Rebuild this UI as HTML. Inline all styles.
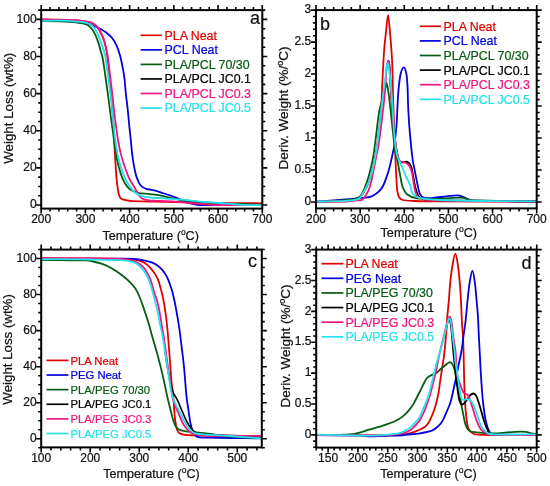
<!DOCTYPE html>
<html><head><meta charset="utf-8"><title>TGA / DTG curves</title>
<style>
html,body{margin:0;padding:0;background:#fff;}
body{width:550px;height:486px;overflow:hidden;}
svg{display:block;}
svg{color:#111;} svg text{font-family:'Liberation Sans', Arial, sans-serif;fill:currentColor;stroke:currentColor;stroke-width:0.22px;}
</style></head>
<body>
<svg width="550" height="486" viewBox="0 0 550 486" font-size="12" fill="#111">
<defs><clipPath id="ca"><rect x="41.2" y="10.1" width="221.1" height="198.5"/></clipPath><clipPath id="cb"><rect x="316" y="10.1" width="220.7" height="198.3"/></clipPath><clipPath id="cc"><rect x="41.2" y="249.6" width="220.6" height="197.8"/></clipPath><clipPath id="cd"><rect x="316.2" y="249.6" width="220.5" height="198"/></clipPath></defs>
<rect width="550" height="486" fill="#fff"/>
<g clip-path="url(#ca)">
<path d="M41.2,19.6C44.33,19.63 54.13,19.67 60,19.8C65.87,19.93 72.22,20.12 76.4,20.4C80.58,20.68 82.57,21.05 85.1,21.5C87.63,21.95 89.6,22.2 91.6,23.1C93.6,24 95.47,25.08 97.1,26.9C98.73,28.72 100.13,31.37 101.4,34C102.67,36.63 103.82,39.7 104.7,42.7C105.58,45.7 106.15,48.78 106.7,52C107.25,55.22 107.45,56.5 108,62C108.55,67.5 109.3,77.83 110,85C110.7,92.17 111.6,98.33 112.2,105C112.8,111.67 113.28,119.17 113.6,125C113.92,130.83 113.82,134.17 114.1,140C114.38,145.83 114.87,153.32 115.3,160C115.73,166.68 116.13,174.52 116.7,180.1C117.27,185.68 117.92,190.38 118.7,193.5C119.48,196.62 119.52,197.58 121.4,198.8C123.28,200.02 125.23,200.35 130,200.8C134.77,201.25 142.5,201.3 150,201.5C157.5,201.7 163.33,201.75 175,202C186.67,202.25 205.45,202.78 220,203C234.55,203.22 255.25,203.25 262.3,203.3" stroke="#e00000" stroke-width="1.8" fill="none" stroke-linejoin="round" stroke-linecap="round"/>
<path d="M41.2,20.4C44.33,20.45 53.23,20.28 60,20.7C66.77,21.12 76.8,22.27 81.8,22.9C86.8,23.53 87.45,23.77 90,24.5C92.55,25.23 94.47,26.02 97.1,27.3C99.73,28.58 103.27,30.38 105.8,32.2C108.33,34.02 110.48,35.93 112.3,38.2C114.12,40.47 115.43,43 116.7,45.8C117.97,48.6 118.98,51.8 119.9,55C120.82,58.2 121.45,61.17 122.2,65C122.95,68.83 123.77,73 124.4,78C125.03,83 125.43,89.67 126,95C126.57,100.33 127.27,105 127.8,110C128.33,115 128.7,120 129.2,125C129.7,130 130.32,135.27 130.8,140C131.28,144.73 131.55,148.95 132.1,153.4C132.65,157.85 133.33,162.7 134.1,166.7C134.87,170.7 135.6,174.27 136.7,177.4C137.8,180.53 139.13,183.6 140.7,185.5C142.27,187.4 144.55,188.13 146.1,188.8C147.65,189.47 148.3,189.15 150,189.5C151.7,189.85 154.63,190.45 156.3,190.9C157.97,191.35 157.75,191.45 160,192.2C162.25,192.95 166.72,194.33 169.8,195.4C172.88,196.47 175.58,197.43 178.5,198.6C181.42,199.77 184.57,201.43 187.3,202.4C190.03,203.37 192.18,203.97 194.9,204.4C197.62,204.83 192.37,204.87 203.6,205C214.83,205.13 252.52,205.17 262.3,205.2" stroke="#0000e0" stroke-width="1.8" fill="none" stroke-linejoin="round" stroke-linecap="round"/>
<path d="M41.2,21C44.33,21.05 54.13,21.07 60,21.3C65.87,21.53 72.22,21.95 76.4,22.4C80.58,22.85 82.75,23.18 85.1,24C87.45,24.82 88.87,25.67 90.5,27.3C92.13,28.93 93.53,31.08 94.9,33.8C96.27,36.52 97.7,40.57 98.7,43.6C99.7,46.63 100.18,49.27 100.9,52C101.62,54.73 101.82,52.83 103,60C104.18,67.17 106.58,84.67 108,95C109.42,105.33 110.5,114.5 111.5,122C112.5,129.5 113.25,134.77 114,140C114.75,145.23 115.22,148.95 116,153.4C116.78,157.85 117.58,162.47 118.7,166.7C119.82,170.93 121.25,175.45 122.7,178.8C124.15,182.15 125.73,184.8 127.4,186.8C129.07,188.8 130.92,189.8 132.7,190.8C134.48,191.8 135.22,192.25 138.1,192.8C140.98,193.35 146.35,193.67 150,194.1C153.65,194.53 156.52,194.73 160,195.4C163.48,196.07 167.27,197.28 170.9,198.1C174.53,198.92 178.17,199.75 181.8,200.3C185.43,200.85 186.33,200.87 192.7,201.4C199.07,201.93 208.4,202.98 220,203.5C231.6,204.02 255.25,204.33 262.3,204.5" stroke="#075c14" stroke-width="1.8" fill="none" stroke-linejoin="round" stroke-linecap="round"/>
<path d="M41.2,20.9C44.33,20.87 54.13,20.58 60,20.7C65.87,20.82 72.03,21.23 76.4,21.6C80.77,21.97 83.48,22.13 86.2,22.9C88.92,23.67 90.8,24.38 92.7,26.2C94.6,28.02 96.15,30.9 97.6,33.8C99.05,36.7 100.3,40.57 101.4,43.6C102.5,46.63 103.45,49.27 104.2,52C104.95,54.73 104.83,52.83 105.9,60C106.97,67.17 109.32,84.17 110.6,95C111.88,105.83 112.82,117.5 113.6,125C114.38,132.5 114.67,135.27 115.3,140C115.93,144.73 116.5,148.95 117.4,153.4C118.3,157.85 119.37,162.47 120.7,166.7C122.03,170.93 123.85,175.45 125.4,178.8C126.95,182.15 128.33,184.47 130,186.8C131.67,189.13 133.38,191.25 135.4,192.8C137.42,194.35 139.67,195.32 142.1,196.1C144.53,196.88 147.02,197.17 150,197.5C152.98,197.83 154.7,197.73 160,198.1C165.3,198.47 174.53,199.07 181.8,199.7C189.07,200.33 197.23,201.35 203.6,201.9C209.97,202.45 213.93,202.55 220,203C226.07,203.45 232.95,204.22 240,204.6C247.05,204.98 258.58,205.18 262.3,205.3" stroke="#000000" stroke-width="0.8" fill="none" stroke-linejoin="round" stroke-linecap="round"/>
<path d="M41.2,19.4C44.33,19.43 54.13,19.47 60,19.6C65.87,19.73 72.22,19.92 76.4,20.2C80.58,20.48 82.57,20.85 85.1,21.3C87.63,21.75 89.6,22 91.6,22.9C93.6,23.8 95.47,24.88 97.1,26.7C98.73,28.52 100.13,31.17 101.4,33.8C102.67,36.43 103.78,39.47 104.7,42.5C105.62,45.53 106.32,49.08 106.9,52C107.48,54.92 107.62,55.67 108.2,60C108.78,64.33 109.7,72.17 110.4,78C111.1,83.83 111.7,88.83 112.4,95C113.1,101.17 113.95,109.5 114.6,115C115.25,120.5 115.73,123.83 116.3,128C116.87,132.17 117.27,135.77 118,140C118.73,144.23 119.58,148.95 120.7,153.4C121.82,157.85 123.25,162.47 124.7,166.7C126.15,170.93 127.83,175.45 129.4,178.8C130.97,182.15 132.65,184.35 134.1,186.8C135.55,189.25 136.77,191.53 138.1,193.5C139.43,195.47 140.12,197.42 142.1,198.6C144.08,199.78 147.63,200.23 150,200.6C152.37,200.97 152.13,200.63 156.3,200.8C160.47,200.97 168.93,201.18 175,201.6C181.07,202.02 185.2,202.73 192.7,203.3C200.2,203.87 208.4,204.72 220,205C231.6,205.28 255.25,205 262.3,205" stroke="#f0157f" stroke-width="1.8" fill="none" stroke-linejoin="round" stroke-linecap="round"/>
<path d="M41.2,20.9C44.33,20.87 54.13,20.58 60,20.7C65.87,20.82 72.03,21.23 76.4,21.6C80.77,21.97 83.48,22.13 86.2,22.9C88.92,23.67 90.8,24.38 92.7,26.2C94.6,28.02 96.15,30.9 97.6,33.8C99.05,36.7 100.3,40.57 101.4,43.6C102.5,46.63 103.45,49.27 104.2,52C104.95,54.73 104.83,52.83 105.9,60C106.97,67.17 109.32,84.17 110.6,95C111.88,105.83 112.82,117.5 113.6,125C114.38,132.5 114.67,135.27 115.3,140C115.93,144.73 116.5,148.95 117.4,153.4C118.3,157.85 119.37,162.47 120.7,166.7C122.03,170.93 123.85,175.45 125.4,178.8C126.95,182.15 128.33,184.47 130,186.8C131.67,189.13 133.38,191.25 135.4,192.8C137.42,194.35 139.67,195.32 142.1,196.1C144.53,196.88 147.02,197.17 150,197.5C152.98,197.83 154.7,197.73 160,198.1C165.3,198.47 174.53,199.07 181.8,199.7C189.07,200.33 197.23,201.35 203.6,201.9C209.97,202.45 213.93,202.55 220,203C226.07,203.45 232.95,204.22 240,204.6C247.05,204.98 258.58,205.18 262.3,205.3" stroke="#25e2ee" stroke-width="1.8" fill="none" stroke-linejoin="round" stroke-linecap="round"/>
</g>
<g clip-path="url(#cb)">
<path d="M316,201.9C320,201.85 334.33,201.75 340,201.6C345.67,201.45 347,201.42 350,201C353,200.58 355.93,200.23 358,199.1C360.07,197.97 360.92,196.3 362.4,194.2C363.88,192.1 365.45,189.57 366.9,186.5C368.35,183.43 369.68,180.87 371.1,175.8C372.52,170.73 374.17,162.95 375.4,156.1C376.63,149.25 377.55,142.38 378.5,134.7C379.45,127.02 380.52,117.45 381.1,110C381.68,102.55 381.65,97.42 382,90C382.35,82.58 382.82,72.47 383.2,65.5C383.58,58.53 383.87,53.48 384.3,48.2C384.73,42.92 385.17,39.32 385.8,33.8C386.43,28.28 387.38,15.1 388.1,15.1C388.82,15.1 389.57,28.28 390.1,33.8C390.63,39.32 390.93,42.92 391.3,48.2C391.67,53.48 391.97,56.13 392.3,65.5C392.63,74.87 392.77,88.65 393.3,104.4C393.83,120.15 394.98,147.7 395.5,160C396.02,172.3 396.1,173.05 396.4,178.2C396.7,183.35 396.85,187.72 397.3,190.9C397.75,194.08 398.2,195.78 399.1,197.3C400,198.82 400.43,199.4 402.7,200C404.97,200.6 406.48,200.67 412.7,200.9C418.92,201.13 419.33,201.28 440,201.4C460.67,201.52 520.58,201.57 536.7,201.6" stroke="#e00000" stroke-width="1.8" fill="none" stroke-linejoin="round" stroke-linecap="round"/>
<path d="M316,201.6C320.45,201.27 336.07,200.12 342.7,199.6C349.33,199.08 351.72,198.87 355.8,198.5C359.88,198.13 364.33,197.85 367.2,197.4C370.07,196.95 370.92,196.92 373,195.8C375.08,194.68 377.95,192.5 379.7,190.7C381.45,188.9 382.37,187.27 383.5,185C384.63,182.73 385.58,179.68 386.5,177.1C387.42,174.52 388.25,172.15 389,169.5C389.75,166.85 390.37,163.95 391,161.2C391.63,158.45 392.23,155.63 392.8,153C393.37,150.37 393.93,148.45 394.4,145.4C394.87,142.35 395.22,138.48 395.6,134.7C395.98,130.92 396.33,128.48 396.7,122.7C397.07,116.92 397.43,106.13 397.8,100C398.17,93.87 398.42,90.32 398.9,85.9C399.38,81.48 399.88,76.6 400.7,73.5C401.52,70.4 402.87,67.3 403.8,67.3C404.73,67.3 405.68,70.4 406.3,73.5C406.92,76.6 407.17,79.82 407.5,85.9C407.83,91.98 407.88,101.87 408.3,110C408.72,118.13 409.27,126.37 410,134.7C410.73,143.03 411.95,154.27 412.7,160C413.45,165.73 413.73,165.17 414.5,169.1C415.27,173.03 416.38,179.42 417.3,183.6C418.22,187.78 418.82,191.82 420,194.2C421.18,196.58 422.22,197.28 424.4,197.9C426.58,198.52 429.47,198.15 433.1,197.9C436.73,197.65 442.2,196.83 446.2,196.4C450.2,195.97 454.2,195.2 457.1,195.3C460,195.4 461.6,196.28 463.6,197C465.6,197.72 466.92,198.98 469.1,199.6C471.28,200.22 465.43,200.37 476.7,200.7C487.97,201.03 526.7,201.45 536.7,201.6" stroke="#0000e0" stroke-width="1.8" fill="none" stroke-linejoin="round" stroke-linecap="round"/>
<path d="M316,201.8C320,201.57 333.58,200.85 340,200.4C346.42,199.95 351.17,199.77 354.5,199.1C357.83,198.43 358.33,198.2 360,196.4C361.67,194.6 363,191.83 364.5,188.3C366,184.77 367.55,180.42 369,175.2C370.45,169.98 372,163.75 373.2,157C374.4,150.25 375.15,142.53 376.2,134.7C377.25,126.87 378.08,117.12 379.5,110C380.92,102.88 383.53,96.53 384.7,92C385.87,87.47 385.88,82.8 386.5,82.8C387.12,82.8 387.78,87.98 388.4,92C389.02,96.02 389.48,100.6 390.2,106.9C390.92,113.2 391.88,122.42 392.7,129.8C393.52,137.18 394.33,146.17 395.1,151.2C395.87,156.23 396.48,156.12 397.3,160C398.12,163.88 399.1,169.95 400,174.5C400.9,179.05 401.48,183.97 402.7,187.3C403.92,190.63 405.02,192.68 407.3,194.5C409.58,196.32 412.1,197.42 416.4,198.2C420.7,198.98 427.05,199.25 433.1,199.2C439.15,199.15 447.62,198.12 452.7,197.9C457.78,197.68 460.68,197.53 463.6,197.9C466.52,198.27 466.55,199.63 470.2,200.1C473.85,200.57 474.42,200.47 485.5,200.7C496.58,200.93 528.17,201.37 536.7,201.5" stroke="#075c14" stroke-width="1.8" fill="none" stroke-linejoin="round" stroke-linecap="round"/>
<path d="M386.7,67.3C386.98,66.18 387.92,60.6 388.4,60.6C388.88,60.6 389.23,63.08 389.6,67.3C389.97,71.52 390.22,79.72 390.6,85.9C390.98,92.08 391.42,97.88 391.9,104.4C392.38,110.92 392.73,117.4 393.5,125C394.27,132.6 395.42,143.9 396.5,150C397.58,156.1 398.2,159.63 400,161.6C401.8,163.57 405.5,161.15 407.3,161.8C409.1,162.45 409.88,163.47 410.8,165.5C411.72,167.53 412.1,170.58 412.8,174C413.5,177.42 414.17,182.58 415,186C415.83,189.42 416.63,192.42 417.8,194.5C418.97,196.58 418.3,197.53 422,198.5C425.7,199.47 420.88,199.8 440,200.3C459.12,200.8 520.58,201.3 536.7,201.5" stroke="#000000" stroke-width="1.8" fill="none" stroke-linejoin="round" stroke-linecap="round"/>
<path d="M316,201.8C321.82,201.65 343.98,201.15 350.9,200.9C357.82,200.65 355.53,200.57 357.5,200.3C359.47,200.03 360.9,200.9 362.7,199.3C364.5,197.7 366.83,193.83 368.3,190.7C369.77,187.57 370.55,184.28 371.5,180.5C372.45,176.72 373.18,172.08 374,168C374.82,163.92 375.65,159.77 376.4,156C377.15,152.23 377.88,149.07 378.5,145.4C379.12,141.73 379.6,137.78 380.1,134C380.6,130.22 381.02,126.7 381.5,122.7C381.98,118.7 382.55,113.78 383,110C383.45,106.22 383.82,104.02 384.2,100C384.58,95.98 384.88,91.35 385.3,85.9C385.72,80.45 386.18,71.45 386.7,67.3C387.22,63.15 387.92,61 388.4,61C388.88,61 389.23,63.15 389.6,67.3C389.97,71.45 390.22,79.72 390.6,85.9C390.98,92.08 391.42,97.88 391.9,104.4C392.38,110.92 392.73,117.4 393.5,125C394.27,132.6 395.5,144 396.5,150C397.5,156 398.62,159.03 399.5,161C400.38,162.97 400.8,161.52 401.8,161.8C402.8,162.08 404.3,162.08 405.5,162.7C406.7,163.32 407.95,163.95 409,165.5C410.05,167.05 411.05,169.25 411.8,172C412.55,174.75 412.93,178.83 413.5,182C414.07,185.17 414.53,188.62 415.2,191C415.87,193.38 416.37,195.02 417.5,196.3C418.63,197.58 418.25,197.98 422,198.7C425.75,199.42 420.88,200.12 440,200.6C459.12,201.08 520.58,201.43 536.7,201.6" stroke="#f0157f" stroke-width="1.8" fill="none" stroke-linejoin="round" stroke-linecap="round"/>
<path d="M316,201.6C320.83,201.47 338,201.22 345,200.8C352,200.38 355.12,200.2 358,199.1C360.88,198 360.85,196.3 362.3,194.2C363.75,192.1 365.25,189.57 366.7,186.5C368.15,183.43 369.55,180.87 371,175.8C372.45,170.73 374.15,162.95 375.4,156.1C376.65,149.25 377.53,142.38 378.5,134.7C379.47,127.02 380.37,117.12 381.2,110C382.03,102.88 382.72,98.08 383.5,92C384.28,85.92 385.18,78.33 385.9,73.5C386.62,68.67 387.18,63 387.8,63C388.42,63 388.98,68.67 389.6,73.5C390.22,78.33 390.98,85.92 391.5,92C392.02,98.08 392.23,102.88 392.7,110C393.17,117.12 393.62,127.3 394.3,134.7C394.98,142.1 395.7,149.47 396.8,154.4C397.9,159.33 399.4,160.73 400.9,164.3C402.4,167.87 404.28,172.35 405.8,175.8C407.32,179.25 408.85,182.03 410,185C411.15,187.97 411.03,191.4 412.7,193.6C414.37,195.8 415.45,197.13 420,198.2C424.55,199.27 430,199.53 440,200C450,200.47 463.88,200.78 480,201C496.12,201.22 527.25,201.25 536.7,201.3" stroke="#25e2ee" stroke-width="1.8" fill="none" stroke-linejoin="round" stroke-linecap="round"/>
</g>
<g clip-path="url(#cc)">
<path d="M41.2,258.5C49.33,258.5 76.03,258.43 90,258.5C103.97,258.57 117.33,258.68 125,258.9C132.67,259.12 133.13,259.35 136,259.8C138.87,260.25 140.32,260.75 142.2,261.6C144.08,262.45 145.73,263.62 147.3,264.9C148.87,266.18 150.27,267.72 151.6,269.3C152.93,270.88 154.2,272.58 155.3,274.4C156.4,276.22 157.35,278.02 158.2,280.2C159.05,282.38 159.67,284.87 160.4,287.5C161.13,290.13 161.92,292.92 162.6,296C163.28,299.08 163.9,302.33 164.5,306C165.1,309.67 165.7,314 166.2,318C166.7,322 167.02,324.7 167.5,330C167.98,335.3 168.63,343.82 169.1,349.8C169.57,355.78 169.88,360.37 170.3,365.9C170.72,371.43 171.12,378.15 171.6,383C172.08,387.85 172.77,390.55 173.2,395C173.63,399.45 173.83,405.2 174.2,409.7C174.57,414.2 174.88,418.58 175.4,422C175.92,425.42 176.57,428.27 177.3,430.2C178.03,432.13 178.57,432.83 179.8,433.6C181.03,434.37 182.45,434.52 184.7,434.8C186.95,435.08 189.08,435.13 193.3,435.3C197.52,435.47 202.22,435.68 210,435.8C217.78,435.92 231.37,435.95 240,436C248.63,436.05 258.17,436.08 261.8,436.1" stroke="#e00000" stroke-width="1.8" fill="none" stroke-linejoin="round" stroke-linecap="round"/>
<path d="M41.2,259.2C49.33,259.15 76.03,258.98 90,258.9C103.97,258.82 117,258.63 125,258.7C133,258.77 134.5,258.95 138,259.3C141.5,259.65 143.73,260.28 146,260.8C148.27,261.32 149.82,261.72 151.6,262.4C153.38,263.08 155,263.75 156.7,264.9C158.4,266.05 160.33,267.72 161.8,269.3C163.27,270.88 164.4,272.58 165.5,274.4C166.6,276.22 167.57,278.27 168.4,280.2C169.23,282.13 169.83,284.03 170.5,286C171.17,287.97 171.73,289.5 172.4,292C173.07,294.5 173.8,297.67 174.5,301C175.2,304.33 175.93,308.3 176.6,312C177.27,315.7 177.9,319.37 178.5,323.2C179.1,327.03 179.62,330.57 180.2,335C180.78,339.43 181.38,344.65 182,349.8C182.62,354.95 183.32,360.03 183.9,365.9C184.48,371.77 185.05,379.77 185.5,385C185.95,390.23 186.12,393.18 186.6,397.3C187.08,401.42 187.8,405.58 188.4,409.7C189,413.82 189.58,418.72 190.2,422C190.82,425.28 191.27,427.17 192.1,429.4C192.93,431.63 193.97,434.08 195.2,435.4C196.43,436.72 197.03,436.92 199.5,437.3C201.97,437.68 204.92,437.58 210,437.7C215.08,437.82 221.37,437.9 230,438C238.63,438.1 256.5,438.25 261.8,438.3" stroke="#0000e0" stroke-width="1.8" fill="none" stroke-linejoin="round" stroke-linecap="round"/>
<path d="M41.2,260C44.33,260.03 52.62,260.13 60,260.2C67.38,260.27 79.98,260.18 85.5,260.4C91.02,260.62 90.57,261 93.1,261.5C95.63,262 98.15,262.57 100.7,263.4C103.25,264.23 105.85,265.23 108.4,266.5C110.95,267.77 113.47,269.33 116,271C118.53,272.67 121.37,274.73 123.6,276.5C125.83,278.27 127.52,279.72 129.4,281.6C131.28,283.48 133.27,285.4 134.9,287.8C136.53,290.2 137.87,292.98 139.2,296C140.53,299.02 141.67,302.4 142.9,305.9C144.13,309.4 145.47,313.5 146.6,317C147.73,320.5 148.83,323.9 149.7,326.9C150.57,329.9 150.73,331.18 151.8,335C152.87,338.82 154.67,344.65 156.1,349.8C157.53,354.95 159.03,360.45 160.4,365.9C161.77,371.35 163.13,377.27 164.3,382.5C165.47,387.73 166.37,392.77 167.4,397.3C168.43,401.83 169.57,405.98 170.5,409.7C171.43,413.42 172.18,416.93 173,419.6C173.82,422.27 174.48,424.1 175.4,425.7C176.32,427.3 176.95,428.28 178.5,429.2C180.05,430.12 181.62,430.65 184.7,431.2C187.78,431.75 192.78,432.07 197,432.5C201.22,432.93 204.5,433.12 210,433.8C215.5,434.48 221.37,435.87 230,436.6C238.63,437.33 256.5,437.93 261.8,438.2" stroke="#075c14" stroke-width="1.8" fill="none" stroke-linejoin="round" stroke-linecap="round"/>
<path d="M164.8,349.8C165.2,352.48 166.37,360.87 167.2,365.9C168.03,370.93 169.12,376.65 169.8,380C170.48,383.35 170.77,383.93 171.3,386C171.83,388.07 172,390.1 173,392.4C174,394.7 175.97,397.12 177.3,399.8C178.63,402.48 179.77,405.62 181,408.5C182.23,411.38 183.47,414.43 184.7,417.1C185.93,419.77 187.17,422.45 188.4,424.5C189.63,426.55 190.87,428.07 192.1,429.4C193.33,430.73 193.95,431.67 195.8,432.5C197.65,433.33 197.5,433.88 203.2,434.4C208.9,434.92 220.23,435.28 230,435.6C239.77,435.92 256.5,436.18 261.8,436.3" stroke="#000000" stroke-width="1.6" fill="none" stroke-linejoin="round" stroke-linecap="round"/>
<path d="M41.2,257.9C49.33,257.97 76.87,258.15 90,258.3C103.13,258.45 113,258.47 120,258.8C127,259.13 128.67,259.4 132,260.3C135.33,261.2 137.93,262.83 140,264.2C142.07,265.57 143.07,266.8 144.4,268.5C145.73,270.2 146.92,272.33 148,274.4C149.08,276.47 149.93,278.12 150.9,280.9C151.87,283.68 152.77,287.75 153.8,291.1C154.83,294.45 156.13,297.5 157.1,301C158.07,304.5 158.88,308.4 159.6,312.1C160.32,315.8 160.75,319.38 161.4,323.2C162.05,327.02 162.8,330.57 163.5,335C164.2,339.43 164.88,344.65 165.6,349.8C166.32,354.95 167.07,360.53 167.8,365.9C168.53,371.27 169.33,377.32 170,382C170.67,386.68 171.2,390.83 171.8,394C172.4,397.17 172.48,397.77 173.6,401C174.72,404.23 176.85,409.48 178.5,413.4C180.15,417.32 181.85,421.62 183.5,424.5C185.15,427.38 186.77,429.15 188.4,430.7C190.03,432.25 191.25,433.08 193.3,433.8C195.35,434.52 194.58,434.7 200.7,435C206.82,435.3 219.82,435.43 230,435.6C240.18,435.77 256.5,435.93 261.8,436" stroke="#f0157f" stroke-width="1.8" fill="none" stroke-linejoin="round" stroke-linecap="round"/>
<path d="M41.2,259.3C44.33,259.27 51.87,259.07 60,259.1C68.13,259.13 80,259.32 90,259.5C100,259.68 113.33,259.88 120,260.2C126.67,260.52 127.33,260.87 130,261.4C132.67,261.93 134.33,262.57 136,263.4C137.67,264.23 138.73,265.18 140,266.4C141.27,267.62 142.38,269.02 143.6,270.7C144.82,272.38 146.2,274.32 147.3,276.5C148.4,278.68 149.35,281.37 150.2,283.8C151.05,286.23 151.6,288.23 152.4,291.1C153.2,293.97 154.12,297.5 155,301C155.88,304.5 156.9,308.4 157.7,312.1C158.5,315.8 159.03,319.38 159.8,323.2C160.57,327.02 161.47,330.57 162.3,335C163.13,339.43 163.98,344.65 164.8,349.8C165.62,354.95 166.42,360.7 167.2,365.9C167.98,371.1 168.75,376.38 169.5,381C170.25,385.62 170.82,390.05 171.7,393.6C172.58,397.15 173.45,399.2 174.8,402.3C176.15,405.4 178.15,408.92 179.8,412.2C181.45,415.48 183.07,419.13 184.7,422C186.33,424.87 187.95,427.55 189.6,429.4C191.25,431.25 192.33,432.27 194.6,433.1C196.87,433.93 200.63,434.1 203.2,434.4C205.77,434.7 205.53,434.63 210,434.9C214.47,435.17 221.37,435.42 230,436C238.63,436.58 256.5,438 261.8,438.4" stroke="#25e2ee" stroke-width="1.8" fill="none" stroke-linejoin="round" stroke-linecap="round"/>
</g>
<g clip-path="url(#cd)">
<path d="M316.2,435.1C326.83,435.13 366.53,435.28 380,435.3C393.47,435.32 392.03,435.52 397,435.2C401.97,434.88 406.7,434.03 409.8,433.4C412.9,432.77 413.9,432.05 415.6,431.4C417.3,430.75 418.47,430.23 420,429.5C421.53,428.77 423.47,428 424.8,427C426.13,426 427.13,424.67 428,423.5C428.87,422.33 429.27,421.5 430,420C430.73,418.5 431.62,416.42 432.4,414.5C433.18,412.58 433.75,411.73 434.7,408.5C435.65,405.27 437.2,399.57 438.1,395.1C439,390.63 439.43,386.15 440.1,381.7C440.77,377.25 441.43,372.85 442.1,368.4C442.77,363.95 443.45,360.4 444.1,355C444.75,349.6 445.43,342.77 446,336C446.57,329.23 447.02,320.4 447.5,314.4C447.98,308.4 448.45,305.25 448.9,300C449.35,294.75 449.63,288.48 450.2,282.9C450.77,277.32 451.45,271.38 452.3,266.5C453.15,261.62 454.33,253.6 455.3,253.6C456.27,253.6 457.35,261.62 458.1,266.5C458.85,271.38 459.33,277.42 459.8,282.9C460.27,288.38 460.55,292.95 460.9,299.4C461.25,305.85 461.5,314.3 461.9,321.6C462.3,328.9 462.88,332.3 463.3,343.2C463.72,354.1 464,375.68 464.4,387C464.8,398.32 465.08,404.3 465.7,411.1C466.32,417.9 466.92,424.1 468.1,427.8C469.28,431.5 470.48,432.13 472.8,433.3C475.12,434.47 471.35,434.5 482,434.8C492.65,435.1 527.58,435.05 536.7,435.1" stroke="#e00000" stroke-width="1.8" fill="none" stroke-linejoin="round" stroke-linecap="round"/>
<path d="M316.2,435.1C323.5,435.18 351.18,435.4 360,435.6C368.82,435.8 364.93,436.27 369.1,436.3C373.27,436.33 380.15,435.93 385,435.8C389.85,435.67 393.58,435.78 398.2,435.5C402.82,435.22 409.07,434.45 412.7,434.1C416.33,433.75 417.62,433.75 420,433.4C422.38,433.05 424.97,432.48 427,432C429.03,431.52 430.53,431.28 432.2,430.5C433.87,429.72 435.45,428.63 437,427.3C438.55,425.97 440.17,424.43 441.5,422.5C442.83,420.57 443.95,417.95 445,415.7C446.05,413.45 446.87,411.3 447.8,409C448.73,406.7 449.67,405.07 450.6,401.9C451.53,398.73 452.48,394.02 453.4,390C454.32,385.98 455.2,382.13 456.1,377.8C457,373.47 457.87,368.63 458.8,364C459.73,359.37 460.92,354.67 461.7,350C462.48,345.33 462.87,340.73 463.5,336C464.13,331.27 464.82,327.6 465.5,321.6C466.18,315.6 466.92,306.45 467.6,300C468.28,293.55 468.8,287.8 469.6,282.9C470.4,278 471.52,270.6 472.4,270.6C473.28,270.6 474.22,278.1 474.9,282.9C475.58,287.7 476,293.92 476.5,299.4C477,304.88 477.53,310.2 477.9,315.8C478.27,321.4 478.42,327.3 478.7,333C478.98,338.7 479.2,342.53 479.6,350C480,357.47 480.53,369.15 481.1,377.8C481.67,386.45 482.23,394.8 483,401.9C483.77,409 484.63,415.47 485.7,420.4C486.77,425.33 487.85,429.18 489.4,431.5C490.95,433.82 487.12,433.72 495,434.3C502.88,434.88 529.75,434.88 536.7,435" stroke="#0000e0" stroke-width="1.8" fill="none" stroke-linejoin="round" stroke-linecap="round"/>
<path d="M316.2,434.9C320.17,434.88 333.62,434.98 340,434.8C346.38,434.62 349.65,434.65 354.5,433.8C359.35,432.95 364.25,431.1 369.1,429.7C373.95,428.3 379.23,426.85 383.6,425.4C387.97,423.95 392.15,422.47 395.3,421C398.45,419.53 400.32,418.3 402.5,416.6C404.68,414.9 406.73,412.65 408.4,410.8C410.07,408.95 411.35,407.22 412.5,405.5C413.65,403.78 413.93,403.12 415.3,400.5C416.67,397.88 419.13,392.93 420.7,389.8C422.27,386.67 423.58,383.72 424.7,381.7C425.82,379.68 426.28,378.8 427.4,377.7C428.52,376.6 430.07,375.77 431.4,375.1C432.73,374.43 433.85,374.72 435.4,373.7C436.95,372.68 439.13,370.33 440.7,369C442.27,367.67 443.43,366.78 444.8,365.7C446.17,364.62 447.78,362.95 448.9,362.5C450.02,362.05 450.58,361.92 451.5,363C452.42,364.08 453.63,366.53 454.4,369C455.17,371.47 455.2,373.25 456.1,377.8C457,382.35 458.72,390.75 459.8,396.3C460.88,401.85 461.67,406.47 462.6,411.1C463.53,415.73 464.32,420.85 465.4,424.1C466.48,427.35 467.25,429.22 469.1,430.6C470.95,431.98 472.32,431.92 476.5,432.4C480.68,432.88 489.07,433.5 494.2,433.5C499.33,433.5 502.95,432.72 507.3,432.4C511.65,432.08 517.22,431.68 520.3,431.6C523.38,431.52 523.97,431.62 525.8,431.9C527.63,432.18 529.48,432.93 531.3,433.3C533.12,433.67 535.8,433.97 536.7,434.1" stroke="#075c14" stroke-width="1.8" fill="none" stroke-linejoin="round" stroke-linecap="round"/>
<path d="M446,328.8C446.43,327.2 447.88,320.33 448.6,319.2C449.32,318.07 449.85,320.4 450.3,322C450.75,323.6 450.92,325.27 451.3,328.8C451.68,332.33 452.17,338.4 452.6,343.2C453.03,348 453.43,353.13 453.9,357.6C454.37,362.07 455.03,366.63 455.4,370C455.77,373.37 455.52,373.12 456.1,377.8C456.68,382.48 457.97,393.63 458.9,398.1C459.83,402.57 460.62,403.97 461.7,404.6C462.78,405.23 464.02,403.43 465.4,401.9C466.78,400.37 468.62,396.8 470,395.4C471.38,394 472.62,393.35 473.7,393.5C474.78,393.65 475.42,393.98 476.5,396.3C477.58,398.62 478.97,403.38 480.2,407.4C481.43,411.42 482.67,416.7 483.9,420.4C485.13,424.1 486.07,427.28 487.6,429.6C489.13,431.92 484.92,433.4 493.1,434.3C501.28,435.2 529.43,434.88 536.7,435" stroke="#000000" stroke-width="1.8" fill="none" stroke-linejoin="round" stroke-linecap="round"/>
<path d="M316.2,435.2C326.58,435.22 364.87,435.47 378.5,435.3C392.13,435.13 393.02,434.88 398,434.2C402.98,433.52 405.7,432.43 408.4,431.2C411.1,429.97 412.68,428.17 414.2,426.8C415.72,425.43 416.45,424.3 417.5,423C418.55,421.7 419.18,421.42 420.5,419C421.82,416.58 423.82,412.48 425.4,408.5C426.98,404.52 428.67,399.57 430,395.1C431.33,390.63 432.38,385.72 433.4,381.7C434.42,377.68 435.32,374.57 436.1,371C436.88,367.43 437.4,363.73 438.1,360.3C438.8,356.87 439.33,354.45 440.3,350.4C441.27,346.35 442.83,340.32 443.9,336C444.97,331.68 445.75,327.73 446.7,324.5C447.65,321.27 448.75,316.85 449.6,316.6C450.45,316.35 451.2,319.77 451.8,323C452.4,326.23 452.6,331.43 453.2,336C453.8,340.57 454.92,346.4 455.4,350.4C455.88,354.4 455.8,355.9 456.1,360C456.4,364.1 456.58,371.12 457.2,375C457.82,378.88 458.75,380.37 459.8,383.3C460.85,386.23 462.12,390.58 463.5,392.6C464.88,394.62 466.7,393.23 468.1,395.4C469.5,397.57 470.5,401.43 471.9,405.6C473.3,409.77 474.97,416.4 476.5,420.4C478.03,424.4 479.25,427.45 481.1,429.6C482.95,431.75 485.28,432.43 487.6,433.3C489.92,434.17 486.82,434.48 495,434.8C503.18,435.12 529.75,435.13 536.7,435.2" stroke="#f0157f" stroke-width="1.8" fill="none" stroke-linejoin="round" stroke-linecap="round"/>
<path d="M316.2,434.6C323.5,434.77 349.62,435.48 360,435.6C370.38,435.72 372.13,435.67 378.5,435.3C384.87,434.93 393.7,434.2 398.2,433.4C402.7,432.6 403.32,431.63 405.5,430.5C407.68,429.37 409.67,427.93 411.3,426.6C412.93,425.27 414.07,423.85 415.3,422.5C416.53,421.15 417.35,420.83 418.7,418.5C420.05,416.17 421.73,412.4 423.4,408.5C425.07,404.6 427.25,399.57 428.7,395.1C430.15,390.63 431.1,385.72 432.1,381.7C433.1,377.68 433.85,374.45 434.7,371C435.55,367.55 436.4,363.92 437.2,361C438,358.08 438.52,356.95 439.5,353.5C440.48,350.05 442.02,344.42 443.1,340.3C444.18,336.18 445.03,332.4 446,328.8C446.97,325.2 448.05,319.67 448.9,318.7C449.75,317.73 450.5,320.12 451.1,323C451.7,325.88 451.95,331.43 452.5,336C453.05,340.57 453.95,346.4 454.4,350.4C454.85,354.4 454.6,355.43 455.2,360C455.8,364.57 457.08,371.75 458,377.8C458.92,383.85 459.78,392.6 460.7,396.3C461.62,400 462.42,399.53 463.5,400C464.58,400.47 465.8,398.78 467.2,399.1C468.6,399.42 470.35,399.58 471.9,401.9C473.45,404.22 474.97,409 476.5,413C478.03,417 479.4,422.67 481.1,425.9C482.8,429.13 484.38,430.98 486.7,432.4C489.02,433.82 486.67,434.07 495,434.4C503.33,434.73 529.75,434.4 536.7,434.4" stroke="#25e2ee" stroke-width="1.8" fill="none" stroke-linejoin="round" stroke-linecap="round"/>
</g>
<rect x="41.2" y="10.1" width="221.1" height="198.5" fill="none" stroke="#000" stroke-width="2"/>
<path d="M41.2,208.6v5M41.2,10.1v-5M50.04,208.6v3M50.04,10.1v-3M58.89,208.6v3M58.89,10.1v-3M67.73,208.6v3M67.73,10.1v-3M76.58,208.6v3M76.58,10.1v-3M85.42,208.6v5M85.42,10.1v-5M94.26,208.6v3M94.26,10.1v-3M103.11,208.6v3M103.11,10.1v-3M111.95,208.6v3M111.95,10.1v-3M120.8,208.6v3M120.8,10.1v-3M129.64,208.6v5M129.64,10.1v-5M138.48,208.6v3M138.48,10.1v-3M147.33,208.6v3M147.33,10.1v-3M156.17,208.6v3M156.17,10.1v-3M165.02,208.6v3M165.02,10.1v-3M173.86,208.6v5M173.86,10.1v-5M182.7,208.6v3M182.7,10.1v-3M191.55,208.6v3M191.55,10.1v-3M200.39,208.6v3M200.39,10.1v-3M209.24,208.6v3M209.24,10.1v-3M218.08,208.6v5M218.08,10.1v-5M226.92,208.6v3M226.92,10.1v-3M235.77,208.6v3M235.77,10.1v-3M244.61,208.6v3M244.61,10.1v-3M253.46,208.6v3M253.46,10.1v-3M262.3,208.6v5M262.3,10.1v-5M41.2,205h-5M262.3,205h5M41.2,195.72h-3M262.3,195.72h3M41.2,186.44h-3M262.3,186.44h3M41.2,177.16h-3M262.3,177.16h3M41.2,167.88h-5M262.3,167.88h5M41.2,158.6h-3M262.3,158.6h3M41.2,149.32h-3M262.3,149.32h3M41.2,140.04h-3M262.3,140.04h3M41.2,130.76h-5M262.3,130.76h5M41.2,121.48h-3M262.3,121.48h3M41.2,112.2h-3M262.3,112.2h3M41.2,102.92h-3M262.3,102.92h3M41.2,93.64h-5M262.3,93.64h5M41.2,84.36h-3M262.3,84.36h3M41.2,75.08h-3M262.3,75.08h3M41.2,65.8h-3M262.3,65.8h3M41.2,56.52h-5M262.3,56.52h5M41.2,47.24h-3M262.3,47.24h3M41.2,37.96h-3M262.3,37.96h3M41.2,28.68h-3M262.3,28.68h3M41.2,19.4h-5M262.3,19.4h5M41.2,10.12h-3M262.3,10.12h3" stroke="#000" stroke-width="1.6" fill="none"/>
<text x="41.2" y="223" text-anchor="middle">200</text>
<text x="85.42" y="223" text-anchor="middle">300</text>
<text x="129.64" y="223" text-anchor="middle">400</text>
<text x="173.86" y="223" text-anchor="middle">500</text>
<text x="218.08" y="223" text-anchor="middle">600</text>
<text x="262.3" y="223" text-anchor="middle">700</text>
<text x="36.6" y="208.2" text-anchor="end">0</text>
<text x="36.6" y="171.08" text-anchor="end">20</text>
<text x="36.6" y="133.96" text-anchor="end">40</text>
<text x="36.6" y="96.84" text-anchor="end">60</text>
<text x="36.6" y="59.72" text-anchor="end">80</text>
<text x="36.6" y="22.6" text-anchor="end">100</text>
<rect x="316" y="10.1" width="220.7" height="198.3" fill="none" stroke="#000" stroke-width="2"/>
<path d="M316,208.4v5M316,10.1v-5M324.83,208.4v3M324.83,10.1v-3M333.66,208.4v3M333.66,10.1v-3M342.48,208.4v3M342.48,10.1v-3M351.31,208.4v3M351.31,10.1v-3M360.14,208.4v5M360.14,10.1v-5M368.97,208.4v3M368.97,10.1v-3M377.8,208.4v3M377.8,10.1v-3M386.62,208.4v3M386.62,10.1v-3M395.45,208.4v3M395.45,10.1v-3M404.28,208.4v5M404.28,10.1v-5M413.11,208.4v3M413.11,10.1v-3M421.94,208.4v3M421.94,10.1v-3M430.76,208.4v3M430.76,10.1v-3M439.59,208.4v3M439.59,10.1v-3M448.42,208.4v5M448.42,10.1v-5M457.25,208.4v3M457.25,10.1v-3M466.08,208.4v3M466.08,10.1v-3M474.9,208.4v3M474.9,10.1v-3M483.73,208.4v3M483.73,10.1v-3M492.56,208.4v5M492.56,10.1v-5M501.39,208.4v3M501.39,10.1v-3M510.22,208.4v3M510.22,10.1v-3M519.04,208.4v3M519.04,10.1v-3M527.87,208.4v3M527.87,10.1v-3M536.7,208.4v5M536.7,10.1v-5M316,202h-5M536.7,202h5M316,195.6h-3M536.7,195.6h3M316,189.21h-3M536.7,189.21h3M316,182.81h-3M536.7,182.81h3M316,176.41h-3M536.7,176.41h3M316,170.02h-5M536.7,170.02h5M316,163.62h-3M536.7,163.62h3M316,157.22h-3M536.7,157.22h3M316,150.83h-3M536.7,150.83h3M316,144.43h-3M536.7,144.43h3M316,138.03h-5M536.7,138.03h5M316,131.64h-3M536.7,131.64h3M316,125.24h-3M536.7,125.24h3M316,118.84h-3M536.7,118.84h3M316,112.45h-3M536.7,112.45h3M316,106.05h-5M536.7,106.05h5M316,99.65h-3M536.7,99.65h3M316,93.26h-3M536.7,93.26h3M316,86.86h-3M536.7,86.86h3M316,80.46h-3M536.7,80.46h3M316,74.07h-5M536.7,74.07h5M316,67.67h-3M536.7,67.67h3M316,61.27h-3M536.7,61.27h3M316,54.88h-3M536.7,54.88h3M316,48.48h-3M536.7,48.48h3M316,42.08h-5M536.7,42.08h5M316,35.69h-3M536.7,35.69h3M316,29.29h-3M536.7,29.29h3M316,22.89h-3M536.7,22.89h3M316,16.5h-3M536.7,16.5h3M316,10.1h-5M536.7,10.1h5" stroke="#000" stroke-width="1.6" fill="none"/>
<text x="316" y="223" text-anchor="middle">200</text>
<text x="360.14" y="223" text-anchor="middle">300</text>
<text x="404.28" y="223" text-anchor="middle">400</text>
<text x="448.42" y="223" text-anchor="middle">500</text>
<text x="492.56" y="223" text-anchor="middle">600</text>
<text x="536.7" y="223" text-anchor="middle">700</text>
<text x="311.2" y="205.2" text-anchor="end">0</text>
<text x="311.2" y="173.22" text-anchor="end">0.5</text>
<text x="311.2" y="141.23" text-anchor="end">1</text>
<text x="311.2" y="109.25" text-anchor="end">1.5</text>
<text x="311.2" y="77.27" text-anchor="end">2</text>
<text x="311.2" y="45.28" text-anchor="end">2.5</text>
<text x="311.2" y="13.3" text-anchor="end">3</text>
<rect x="41.2" y="249.6" width="220.6" height="197.8" fill="none" stroke="#000" stroke-width="2"/>
<path d="M41.2,447.4v5M41.2,249.6v-5M51,447.4v3M51,249.6v-3M60.81,447.4v3M60.81,249.6v-3M70.61,447.4v3M70.61,249.6v-3M80.42,447.4v3M80.42,249.6v-3M90.22,447.4v5M90.22,249.6v-5M100.03,447.4v3M100.03,249.6v-3M109.83,447.4v3M109.83,249.6v-3M119.64,447.4v3M119.64,249.6v-3M129.44,447.4v3M129.44,249.6v-3M139.24,447.4v5M139.24,249.6v-5M149.05,447.4v3M149.05,249.6v-3M158.85,447.4v3M158.85,249.6v-3M168.66,447.4v3M168.66,249.6v-3M178.46,447.4v3M178.46,249.6v-3M188.27,447.4v5M188.27,249.6v-5M198.07,447.4v3M198.07,249.6v-3M207.88,447.4v3M207.88,249.6v-3M217.68,447.4v3M217.68,249.6v-3M227.48,447.4v3M227.48,249.6v-3M237.29,447.4v5M237.29,249.6v-5M247.09,447.4v3M247.09,249.6v-3M256.9,447.4v3M256.9,249.6v-3M41.2,447.81h-3M261.8,447.81h3M41.2,438.8h-5M261.8,438.8h5M41.2,429.79h-3M261.8,429.79h3M41.2,420.77h-3M261.8,420.77h3M41.2,411.75h-3M261.8,411.75h3M41.2,402.74h-5M261.8,402.74h5M41.2,393.73h-3M261.8,393.73h3M41.2,384.71h-3M261.8,384.71h3M41.2,375.69h-3M261.8,375.69h3M41.2,366.68h-5M261.8,366.68h5M41.2,357.67h-3M261.8,357.67h3M41.2,348.65h-3M261.8,348.65h3M41.2,339.63h-3M261.8,339.63h3M41.2,330.62h-5M261.8,330.62h5M41.2,321.61h-3M261.8,321.61h3M41.2,312.59h-3M261.8,312.59h3M41.2,303.57h-3M261.8,303.57h3M41.2,294.56h-5M261.8,294.56h5M41.2,285.54h-3M261.8,285.54h3M41.2,276.53h-3M261.8,276.53h3M41.2,267.51h-3M261.8,267.51h3M41.2,258.5h-5M261.8,258.5h5M41.2,249.48h-3M261.8,249.48h3" stroke="#000" stroke-width="1.6" fill="none"/>
<text x="41.2" y="461.9" text-anchor="middle">100</text>
<text x="90.22" y="461.9" text-anchor="middle">200</text>
<text x="139.24" y="461.9" text-anchor="middle">300</text>
<text x="188.27" y="461.9" text-anchor="middle">400</text>
<text x="237.29" y="461.9" text-anchor="middle">500</text>
<text x="36.6" y="442" text-anchor="end">0</text>
<text x="36.6" y="405.94" text-anchor="end">20</text>
<text x="36.6" y="369.88" text-anchor="end">40</text>
<text x="36.6" y="333.82" text-anchor="end">60</text>
<text x="36.6" y="297.76" text-anchor="end">80</text>
<text x="36.6" y="261.7" text-anchor="end">100</text>
<rect x="316.2" y="249.6" width="220.5" height="198" fill="none" stroke="#000" stroke-width="2"/>
<path d="M316.2,447.6v3M316.2,249.6v-3M322.16,447.6v3M322.16,249.6v-3M328.12,447.6v5M328.12,249.6v-5M334.08,447.6v3M334.08,249.6v-3M340.04,447.6v3M340.04,249.6v-3M346,447.6v3M346,249.6v-3M351.96,447.6v3M351.96,249.6v-3M357.92,447.6v5M357.92,249.6v-5M363.88,447.6v3M363.88,249.6v-3M369.84,447.6v3M369.84,249.6v-3M375.79,447.6v3M375.79,249.6v-3M381.75,447.6v3M381.75,249.6v-3M387.71,447.6v5M387.71,249.6v-5M393.67,447.6v3M393.67,249.6v-3M399.63,447.6v3M399.63,249.6v-3M405.59,447.6v3M405.59,249.6v-3M411.55,447.6v3M411.55,249.6v-3M417.51,447.6v5M417.51,249.6v-5M423.47,447.6v3M423.47,249.6v-3M429.43,447.6v3M429.43,249.6v-3M435.39,447.6v3M435.39,249.6v-3M441.35,447.6v3M441.35,249.6v-3M447.31,447.6v5M447.31,249.6v-5M453.27,447.6v3M453.27,249.6v-3M459.23,447.6v3M459.23,249.6v-3M465.19,447.6v3M465.19,249.6v-3M471.15,447.6v3M471.15,249.6v-3M477.11,447.6v5M477.11,249.6v-5M483.06,447.6v3M483.06,249.6v-3M489.02,447.6v3M489.02,249.6v-3M494.98,447.6v3M494.98,249.6v-3M500.94,447.6v3M500.94,249.6v-3M506.9,447.6v5M506.9,249.6v-5M512.86,447.6v3M512.86,249.6v-3M518.82,447.6v3M518.82,249.6v-3M524.78,447.6v3M524.78,249.6v-3M530.74,447.6v3M530.74,249.6v-3M536.7,447.6v5M536.7,249.6v-5M316.2,447.25h-3M536.7,447.25h3M316.2,441.08h-3M536.7,441.08h3M316.2,434.9h-5M536.7,434.9h5M316.2,428.72h-3M536.7,428.72h3M316.2,422.55h-3M536.7,422.55h3M316.2,416.37h-3M536.7,416.37h3M316.2,410.19h-3M536.7,410.19h3M316.2,404.02h-5M536.7,404.02h5M316.2,397.84h-3M536.7,397.84h3M316.2,391.66h-3M536.7,391.66h3M316.2,385.49h-3M536.7,385.49h3M316.2,379.31h-3M536.7,379.31h3M316.2,373.13h-5M536.7,373.13h5M316.2,366.96h-3M536.7,366.96h3M316.2,360.78h-3M536.7,360.78h3M316.2,354.6h-3M536.7,354.6h3M316.2,348.43h-3M536.7,348.43h3M316.2,342.25h-5M536.7,342.25h5M316.2,336.07h-3M536.7,336.07h3M316.2,329.9h-3M536.7,329.9h3M316.2,323.72h-3M536.7,323.72h3M316.2,317.54h-3M536.7,317.54h3M316.2,311.37h-5M536.7,311.37h5M316.2,305.19h-3M536.7,305.19h3M316.2,299.01h-3M536.7,299.01h3M316.2,292.84h-3M536.7,292.84h3M316.2,286.66h-3M536.7,286.66h3M316.2,280.48h-5M536.7,280.48h5M316.2,274.31h-3M536.7,274.31h3M316.2,268.13h-3M536.7,268.13h3M316.2,261.95h-3M536.7,261.95h3M316.2,255.78h-3M536.7,255.78h3M316.2,249.6h-5M536.7,249.6h5" stroke="#000" stroke-width="1.6" fill="none"/>
<text x="328.12" y="461.9" text-anchor="middle">150</text>
<text x="357.92" y="461.9" text-anchor="middle">200</text>
<text x="387.71" y="461.9" text-anchor="middle">250</text>
<text x="417.51" y="461.9" text-anchor="middle">300</text>
<text x="447.31" y="461.9" text-anchor="middle">350</text>
<text x="477.11" y="461.9" text-anchor="middle">400</text>
<text x="506.9" y="461.9" text-anchor="middle">450</text>
<text x="536.7" y="461.9" text-anchor="middle">500</text>
<text x="311.4" y="438.1" text-anchor="end">0</text>
<text x="311.4" y="407.22" text-anchor="end">0.5</text>
<text x="311.4" y="376.33" text-anchor="end">1</text>
<text x="311.4" y="345.45" text-anchor="end">1.5</text>
<text x="311.4" y="314.57" text-anchor="end">2</text>
<text x="311.4" y="283.68" text-anchor="end">2.5</text>
<text x="311.4" y="252.8" text-anchor="end">3</text>
<path d="M140.6,35.3H162" stroke="#e00000" stroke-width="1.7"/>
<text x="164.6" y="39.7" style="color:#e00000" font-size="12.4">PLA Neat</text>
<path d="M140.6,49.85H162" stroke="#0000e0" stroke-width="1.7"/>
<text x="164.6" y="54.25" style="color:#0000e0" font-size="12.4">PCL Neat</text>
<path d="M140.6,64.4H162" stroke="#075c14" stroke-width="1.7"/>
<text x="164.6" y="68.8" style="color:#075c14" font-size="12.4">PLA/PCL 70/30</text>
<path d="M140.6,78.95H162" stroke="#000000" stroke-width="1.7"/>
<text x="164.6" y="83.35" style="color:#000000" font-size="12.4">PLA/PCL JC0.1</text>
<path d="M140.6,93.5H162" stroke="#f0157f" stroke-width="1.7"/>
<text x="164.6" y="97.9" style="color:#f0157f" font-size="12.4">PLA/PCL JC0.3</text>
<path d="M140.6,108.05H162" stroke="#25e2ee" stroke-width="1.7"/>
<text x="164.6" y="112.45" style="color:#25e2ee" font-size="12.4">PLA/PCL JC0.5</text>
<path d="M419.8,26.3H440.8" stroke="#e00000" stroke-width="1.7"/>
<text x="443.6" y="30.7" style="color:#e00000" font-size="12.4">PLA Neat</text>
<path d="M419.8,40.9H440.8" stroke="#0000e0" stroke-width="1.7"/>
<text x="443.6" y="45.3" style="color:#0000e0" font-size="12.4">PCL Neat</text>
<path d="M419.8,55.5H440.8" stroke="#075c14" stroke-width="1.7"/>
<text x="443.6" y="59.9" style="color:#075c14" font-size="12.4">PLA/PCL 70/30</text>
<path d="M419.8,70.1H440.8" stroke="#000000" stroke-width="1.7"/>
<text x="443.6" y="74.5" style="color:#000000" font-size="12.4">PLA/PCL JC0.1</text>
<path d="M419.8,84.7H440.8" stroke="#f0157f" stroke-width="1.7"/>
<text x="443.6" y="89.1" style="color:#f0157f" font-size="12.4">PLA/PCL JC0.3</text>
<path d="M419.8,99.3H440.8" stroke="#25e2ee" stroke-width="1.7"/>
<text x="443.6" y="103.7" style="color:#25e2ee" font-size="12.4">PLA/PCL JC0.5</text>
<path d="M46.5,360.4H68.4" stroke="#e00000" stroke-width="1.7"/>
<text x="70.4" y="364.5" style="color:#e00000" font-size="11.3">PLA Neat</text>
<path d="M46.5,375.02H68.4" stroke="#0000e0" stroke-width="1.7"/>
<text x="70.4" y="379.12" style="color:#0000e0" font-size="11.3">PEG Neat</text>
<path d="M46.5,389.64H68.4" stroke="#075c14" stroke-width="1.7"/>
<text x="70.4" y="393.74" style="color:#075c14" font-size="11.3">PLA/PEG 70/30</text>
<path d="M46.5,404.26H68.4" stroke="#000000" stroke-width="1.7"/>
<text x="70.4" y="408.36" style="color:#000000" font-size="11.3">PLA/PEG JC0.1</text>
<path d="M46.5,418.88H68.4" stroke="#f0157f" stroke-width="1.7"/>
<text x="70.4" y="422.98" style="color:#f0157f" font-size="11.3">PLA/PEG JC0.3</text>
<path d="M46.5,433.5H68.4" stroke="#25e2ee" stroke-width="1.7"/>
<text x="70.4" y="437.6" style="color:#25e2ee" font-size="11.3">PLA/PEG JC0.5</text>
<path d="M321.5,263.7H343.4" stroke="#e00000" stroke-width="1.7"/>
<text x="345.4" y="268.1" style="color:#e00000" font-size="12.4">PLA Neat</text>
<path d="M321.5,278.32H343.4" stroke="#0000e0" stroke-width="1.7"/>
<text x="345.4" y="282.72" style="color:#0000e0" font-size="12.4">PEG Neat</text>
<path d="M321.5,292.94H343.4" stroke="#075c14" stroke-width="1.7"/>
<text x="345.4" y="297.34" style="color:#075c14" font-size="12.4">PLA/PEG 70/30</text>
<path d="M321.5,307.56H343.4" stroke="#000000" stroke-width="1.7"/>
<text x="345.4" y="311.96" style="color:#000000" font-size="12.4">PLA/PEG JC0.1</text>
<path d="M321.5,322.18H343.4" stroke="#f0157f" stroke-width="1.7"/>
<text x="345.4" y="326.58" style="color:#f0157f" font-size="12.4">PLA/PEG JC0.3</text>
<path d="M321.5,336.8H343.4" stroke="#25e2ee" stroke-width="1.7"/>
<text x="345.4" y="341.2" style="color:#25e2ee" font-size="12.4">PLA/PEG JC0.5</text>
<text x="150.7" y="240.3" text-anchor="middle" font-size="12.6">Temperature (<tspan font-size="8.5" dy="-5">o</tspan><tspan dy="5">C)</tspan></text>
<text x="428.8" y="237.4" text-anchor="middle" font-size="12.6">Temperature (<tspan font-size="8.5" dy="-5">o</tspan><tspan dy="5">C)</tspan></text>
<text x="151.5" y="478" text-anchor="middle" font-size="12.6">Temperature (<tspan font-size="8.5" dy="-5">o</tspan><tspan dy="5">C)</tspan></text>
<text x="428.5" y="478" text-anchor="middle" font-size="12.6">Temperature (<tspan font-size="8.5" dy="-5">o</tspan><tspan dy="5">C)</tspan></text>
<text transform="translate(13.1,108.3) rotate(-90)" text-anchor="middle" font-size="12.6" textLength="111" lengthAdjust="spacingAndGlyphs">Weight Loss (wt%)</text>
<text transform="translate(287.8,107.9) rotate(-90)" text-anchor="middle" font-size="12.6" textLength="123" lengthAdjust="spacingAndGlyphs">Deriv. Weight (%/<tspan font-size="8.5" dy="-5">o</tspan><tspan dy="5">C)</tspan></text>
<text transform="translate(12.3,349.4) rotate(-90)" text-anchor="middle" font-size="12.6" textLength="110.5" lengthAdjust="spacingAndGlyphs">Weight Loss (wt%)</text>
<text transform="translate(290.3,345.9) rotate(-90)" text-anchor="middle" font-size="12.6" textLength="123" lengthAdjust="spacingAndGlyphs">Deriv. Weight (%/<tspan font-size="8.5" dy="-5">o</tspan><tspan dy="5">C)</tspan></text>
<text x="250" y="23.5" font-size="18">a</text>
<text x="320" y="29.6" font-size="18">b</text>
<text x="248" y="266.5" font-size="18">c</text>
<text x="521.5" y="268.5" font-size="18">d</text>
</svg>
</body></html>
